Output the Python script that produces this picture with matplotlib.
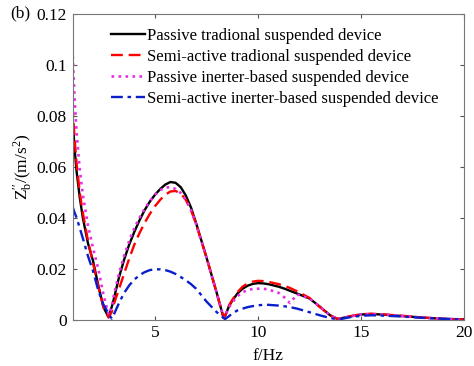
import numpy as np
import matplotlib
matplotlib.use('Agg')
import matplotlib.pyplot as plt

plt.rcParams['font.family'] = ['Liberation Serif', 'DejaVu Serif']
plt.rcParams['mathtext.fontset'] = 'custom'
plt.rcParams['mathtext.rm'] = 'Liberation Serif'
plt.rcParams['mathtext.it'] = 'Liberation Serif:italic'

# frequency grid (Hz)
f = [1.0, 1.1, 1.2, 1.35, 1.5, 1.75, 2.0, 2.25, 2.5, 2.75, 2.9, 3.0, 3.25, 3.5, 3.75,
     4.0, 4.25, 4.5, 4.75, 5.0, 5.25, 5.5, 5.75, 6.0, 6.25, 6.5, 6.75, 7.0, 7.5, 8.0,
     8.33, 8.4, 8.6, 8.75, 9.0, 9.25, 9.5, 9.75, 10.0, 10.25, 10.5, 11.0, 11.3, 11.55,
     11.9, 12.5, 13.0, 13.5, 13.85, 13.95, 14.5, 15.0, 15.5, 16.0, 17.0, 18.0, 19.0, 20.0]

passive_trad = [0.080, 0.067, 0.058, 0.048, 0.040, 0.030, 0.023, 0.0135, 0.005, 0.001, 0.005, 0.008, 0.0165, 0.0235, 0.0295,
                0.0345, 0.0390, 0.0430, 0.0463, 0.0490, 0.0512, 0.0530, 0.0540, 0.0537, 0.0520, 0.0487, 0.0440, 0.0378, 0.0245, 0.0105,
                0.0008, 0.0015, 0.0055, 0.0075, 0.0103, 0.0122, 0.0134, 0.0141, 0.0144, 0.0143, 0.0140, 0.0130, 0.0122, 0.0114,
                0.0103, 0.0084, 0.0052, 0.0018, 0.0004, 0.0005, 0.0014, 0.0021, 0.0023, 0.0021, 0.0015, 0.0009, 0.0004, 0.0002]

semi_trad = [0.084, 0.071, 0.061, 0.050, 0.042, 0.031, 0.022, 0.013, 0.005, 0.001, 0.003, 0.006, 0.012, 0.018, 0.024,
             0.0295, 0.034, 0.038, 0.0415, 0.0445, 0.047, 0.049, 0.0503, 0.0505, 0.0495, 0.047, 0.043, 0.0375, 0.0245, 0.0105,
             0.0008, 0.0015, 0.0058, 0.0078, 0.0108, 0.0130, 0.0143, 0.0150, 0.0153, 0.0152, 0.0149, 0.0140, 0.0133, 0.0125,
             0.0112, 0.0086, 0.0050, 0.0018, 0.0004, 0.0005, 0.0015, 0.0022, 0.0024, 0.0022, 0.0016, 0.0009, 0.0004, 0.0002]

passive_inerter = [0.106, 0.087, 0.073, 0.059, 0.049, 0.037, 0.028, 0.020, 0.010, 0.002, 0.005, 0.0095, 0.018, 0.025, 0.031,
                   0.036, 0.040, 0.0435, 0.0465, 0.049, 0.0508, 0.0518, 0.052, 0.0513, 0.0497, 0.047, 0.043, 0.0375, 0.0245, 0.0105,
                   0.0008, 0.0015, 0.0050, 0.0068, 0.0093, 0.0108, 0.0117, 0.0121, 0.0122, 0.0122, 0.0119, 0.0106, 0.0087, 0.0066,
                   0.0100, 0.0084, 0.0052, 0.0018, 0.0004, 0.0005, 0.0014, 0.0021, 0.0023, 0.0021, 0.0015, 0.0009, 0.0004, 0.0002]

semi_inerter = [0.0444, 0.042, 0.040, 0.036, 0.032, 0.025, 0.019, 0.0115, 0.006, 0.0025, 0.0005, 0.002, 0.0065, 0.0105, 0.0135,
                0.0158, 0.0175, 0.0187, 0.0195, 0.0198, 0.0198, 0.0195, 0.0189, 0.0180, 0.0168, 0.0155, 0.0140, 0.0122, 0.0072, 0.0030,
                0.0008, 0.0003, 0.0015, 0.0025, 0.0037, 0.0044, 0.0050, 0.0054, 0.0057, 0.0059, 0.0059, 0.0056, 0.0053, 0.0050,
                0.0044, 0.0030, 0.0018, 0.0007, 0.0003, 0.0002, 0.0011, 0.0016, 0.0018, 0.0017, 0.0013, 0.0008, 0.0004, 0.0002]

labels = ['Passive tradional suspended device',
          'Semi-active tradional suspended device',
          'Passive inerter-based suspended device',
          'Semi-active inerter-based suspended device']


def main():
    fig = plt.figure(figsize=(4.74, 3.66), dpi=100)
    ax = fig.add_axes([0.153, 0.126, 0.826, 0.837])

    ax.plot(f, passive_trad, '-', color='black', linewidth=1.7, label=labels[0])
    ax.plot(f, semi_trad, '--', color='#ff0000', linewidth=1.7, dashes=(5, 2.5), label=labels[1])
    ax.plot(f, passive_inerter, ':', color='#e62ee6', linewidth=1.9, label=labels[2])
    ax.plot(f, semi_inerter, '-.', color='#0a1ecc', linewidth=1.7, dashes=(5, 2, 1.5, 2), label=labels[3])

    ax.set_xlim(1, 20)
    ax.set_ylim(0, 0.12)
    ax.set_xticks([5, 10, 15, 20])
    ax.set_xticklabels(['5', '10', '15', '20'])
    ax.set_yticks([0, 0.02, 0.04, 0.06, 0.08, 0.1, 0.12])
    ax.set_yticklabels(['0', '0.02', '0.04', '0.06', '0.08', '0.1', '0.12'])
    ax.tick_params(direction='in', top=True, right=True, labelsize=12.5,
                   color='#555555', length=3, pad=4)
    for s in ax.spines.values():
        s.set_color('#777777')
        s.set_linewidth(0.8)

    ax.set_xlabel('f/Hz', fontsize=12.5, labelpad=5)
    ax.set_ylabel(r'$\mathrm{Z}_\mathrm{b}^{\prime\prime}$/(m/s$^2$)', fontsize=12.5, labelpad=2)
    fig.text(0.021, 0.963, '(b)', fontsize=12.5, va='center', ha='left')

    leg = ax.legend(loc='upper left', bbox_to_anchor=(0.082, 0.975), frameon=False,
                    fontsize=12, handlelength=2.0, handletextpad=0.15,
                    labelspacing=0.3, borderaxespad=0)

    fig.savefig('out.png', dpi=100)


if __name__ == '__main__':
    main()
